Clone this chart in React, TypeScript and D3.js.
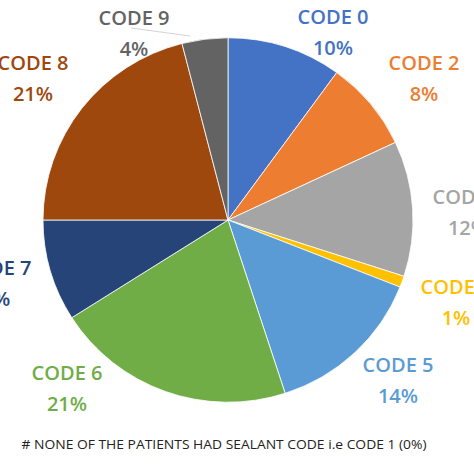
import * as d3 from 'd3';

// Sealant codes, read clockwise from 12 o'clock
const codes = ['CODE 0', 'CODE 2', 'CODE 3', 'CODE 4', 'CODE 5', 'CODE 6', 'CODE 7', 'CODE 8', 'CODE 9'];
const percents = [10, 8, 12, 1, 14, 21, 9, 21, 4];
const sliceColors = ['#4472C4', '#ED7D31', '#A5A5A5', '#FFC000', '#5B9BD5', '#70AD47', '#264478', '#9E480E', '#636363'];
// label anchor (x, y of the name line) for each code
const labelX = [333, 424, 468, 456, 398, 67, -4, 33, 134];
const labelY = [17, 63, 197, 287, 365, 373, 268, 63, 18];
const footnote = '# NONE OF THE PATIENTS HAD SEALANT CODE i.e CODE 1 (0%)';

export default function App() {
  const width = 474;
  const height = 474;
  const cx = 228;
  const cy = 220;
  const r = 185;

  const pie = d3.pie<number>().sort(null).value(d => d);
  const arcs = pie(percents);
  const arc = d3.arc<d3.PieArcDatum<number>>().innerRadius(0).outerRadius(r);

  return (
    <svg
      width={width}
      height={height}
      style={{ position: 'fixed', left: 0, top: 0, background: '#fff' }}
      fontFamily="'Open Sans', sans-serif"
    >
      <rect width={width} height={height} fill="#fff" />
      <g transform={`translate(${cx},${cy}) scale(1,0.985)`}>
        {arcs.map((a, i) => (
          <path key={codes[i]} d={arc(a) ?? ''} fill={sliceColors[i]} stroke="#fff" strokeWidth={0.8} />
        ))}
      </g>
      <line x1={131} y1={28} x2={190} y2={36} stroke="#c8c8c8" strokeWidth={0.8} />
      {codes.map((c, i) => (
        <g key={c} fill={sliceColors[i]} fontWeight={600} fontSize={20} textAnchor="middle">
          <text x={labelX[i]} y={labelY[i]} dy="0.35em">{c}</text>
          <text x={labelX[i]} y={labelY[i] + 31} dy="0.35em">{percents[i]}%</text>
        </g>
      ))}
      <text
        x={224}
        y={445}
        dy="0.35em"
        textAnchor="middle"
        fontSize={12}
        fill="#222"
        textLength={405}
        lengthAdjust="spacingAndGlyphs"
      >
        {footnote}
      </text>
    </svg>
  );
}
